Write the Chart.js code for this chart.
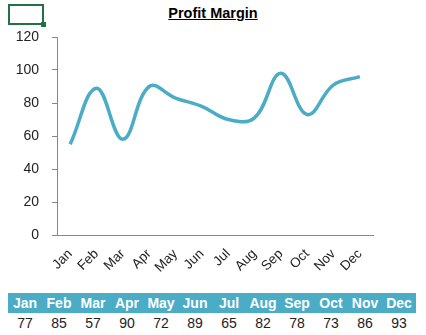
<!DOCTYPE html>
<html>
<head>
<meta charset="utf-8">
<script src="https://cdn.jsdelivr.net/npm/chart.js@4.4.1/dist/chart.umd.min.js"></script>
<style>
  body { margin: 0; background: #fff; font-family: "Liberation Sans", Arial, sans-serif; }
  #wrap { position: relative; width: 426px; height: 335px; overflow: hidden; }
  #cell { position: absolute; left: 8px; top: 4px; width: 32px; height: 17px; border: 2px solid #217346; }
  #cell::after { content: ""; position: absolute; right: -4px; bottom: -4px; width: 5px; height: 5px; background: #217346; }
  #title { position: absolute; left: 0; top: 5px; width: 426px; text-align: center; font-weight: bold; font-size: 14.5px; text-decoration: underline; color: #000; }
  #chartBox { position: absolute; left: 0; top: 25px; width: 426px; height: 265px; }
  #tbl { position: absolute; left: 8px; top: 293px; width: 408px; border-collapse: collapse; table-layout: fixed; }
  #tbl th { background: #4BACC6; color: #fff; font-weight: bold; font-size: 14px; height: 20px; padding: 0; text-align: center; }
  #tbl td { color: #222; font-size: 14px; height: 19px; padding: 0; text-align: center; }
</style>
</head>
<body>
<div id="wrap">
  <div id="cell"></div>
  <div id="title">Profit Margin</div>
  <div id="chartBox"><canvas id="chart"></canvas></div>
  <table id="tbl"><thead><tr id="headRow"></tr></thead><tbody><tr id="valRow"></tr></tbody></table>
</div>
<script>
  // chart data
  const months = ['Jan', 'Feb', 'Mar', 'Apr', 'May', 'Jun', 'Jul', 'Aug', 'Sep', 'Oct', 'Nov', 'Dec'];
  const margin = [55, 89, 58, 90, 83, 78, 70, 71, 98, 73, 91, 96];
  // values shown in the table under the chart
  const tableValues = [77, 85, 57, 90, 72, 89, 65, 82, 78, 73, 86, 93];
  const yTicks = [0, 20, 40, 60, 80, 100, 120];

  const headRow = document.getElementById('headRow');
  const valRow = document.getElementById('valRow');
  months.forEach((m, i) => {
    const th = document.createElement('th');
    th.textContent = m;
    headRow.appendChild(th);
    const td = document.createElement('td');
    td.textContent = tableValues[i];
    valRow.appendChild(td);
  });

  new Chart(document.getElementById('chart'), {
    type: 'line',
    data: {
      labels: months,
      datasets: [{
        data: margin,
        borderColor: '#4BACC6',
        borderWidth: 3.5,
        pointRadius: 0,
        tension: 0.4,
        fill: false
      }]
    },
    options: {
      responsive: true,
      maintainAspectRatio: false,
      animation: false,
      layout: { padding: { top: 12, right: 53, left: 0, bottom: 0 } },
      plugins: { legend: { display: false }, tooltip: { enabled: false } },
      scales: {
        x: {
          offset: true,
          grid: { display: false },
          border: { display: true, color: '#888', width: 1 },
          ticks: {
            autoSkip: false,
            maxRotation: 45, minRotation: 45, padding: 3,
            color: '#222',
            font: { family: '"Liberation Sans", Arial', size: 13.5 }
          },
          afterFit: (s) => { s.height = 55; s.paddingLeft = 0; s.paddingRight = 0; }
        },
        y: {
          min: 0, max: 120,
          afterBuildTicks: (s) => { s.ticks = yTicks.map(v => ({ value: v })); },
          grid: { drawOnChartArea: false, drawTicks: true, tickLength: 5, color: '#888' },
          border: { display: true, color: '#888', width: 1 },
          ticks: {
            padding: 13,
            color: '#222',
            font: { family: '"Liberation Sans", Arial', size: 14 }
          },
          afterFit: (s) => { s.width = 57; s.paddingTop = 0; s.paddingBottom = 0; }
        }
      }
    }
  });
</script>
</body>
</html>
